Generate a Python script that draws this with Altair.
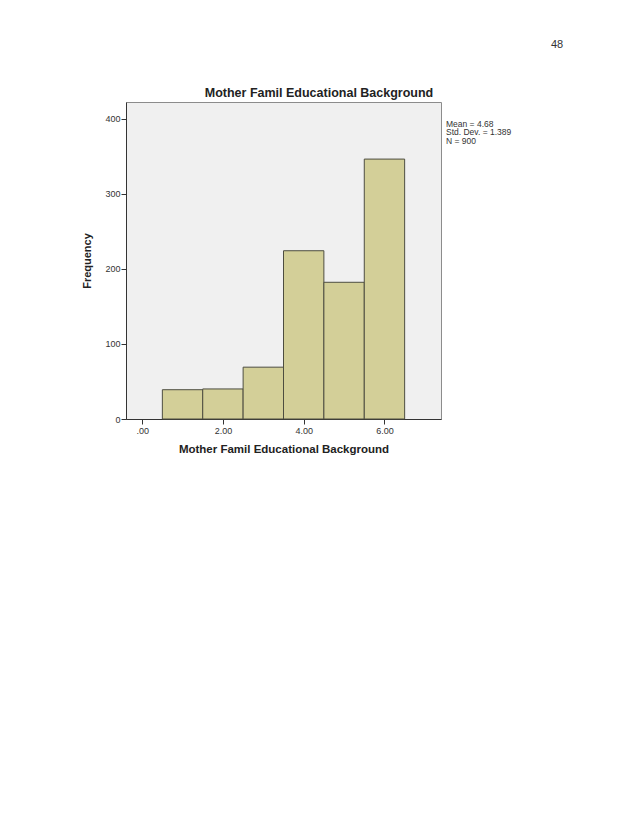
import altair as alt
import pandas as pd

# Histogram data
bin_start = [0.5, 1.5, 2.5, 3.5, 4.5, 5.5]
bin_end = [1.5, 2.5, 3.5, 4.5, 5.5, 6.5]
counts = [39, 40, 69, 224, 182, 346]

stats_lines = ["Mean = 4.68", "Std. Dev. = 1.389", "N = 900"]
title_text = "Mother Famil Educational Background"
page_number = "48"

df = pd.DataFrame({"start": bin_start, "end": bin_end, "count": counts})
stats_df = pd.DataFrame({"line": stats_lines, "idx": list(range(len(stats_lines)))})

FONT = "Liberation Sans"

bars = alt.Chart(df).mark_rect(
    fill="#D3CF98", stroke="#4d4d40", strokeWidth=1
).encode(
    x=alt.X("start:Q",
            scale=alt.Scale(domain=[-0.4, 7.4], nice=False, zero=False),
            axis=alt.Axis(values=[0, 2, 4, 6],
                          labelExpr="datum.value == 0 ? '.00' : format(datum.value, '.2f')",
                          title=title_text, grid=False)),
    x2="end:Q",
    y=alt.Y("count:Q",
            scale=alt.Scale(domain=[0, 422], nice=False),
            axis=alt.Axis(values=[0, 100, 200, 300, 400], title="Frequency", grid=False)),
    y2=alt.datum(0),
)

stats = alt.Chart(stats_df).mark_text(
    align="left", baseline="middle", font=FONT, fontSize=8.5, color="#333333"
).encode(
    x=alt.value(320),
    y=alt.Y("idx:Q", scale=alt.Scale(domain=[0, 2], range=[21.5, 38.7]), axis=None),
    text="line:N",
)

page = alt.Chart(pd.DataFrame({"t": [page_number]})).mark_text(
    align="center", baseline="middle", font=FONT, fontSize=11, color="#333333"
).encode(
    x=alt.value(431),
    y=alt.value(-57),
    text="t:N",
)

title = alt.Chart(pd.DataFrame({"t": [title_text]})).mark_text(
    align="center", baseline="alphabetic", font=FONT, fontSize=12.5,
    fontWeight="bold", color="#222222"
).encode(
    x=alt.value(193),
    y=alt.value(-5),
    text="t:N",
)

chart = alt.layer(bars, stats, page, title).resolve_scale(y="independent").properties(
    width=315,
    height=317,
    padding={"left": 118, "top": 94, "right": 180, "bottom": 380},
    autosize=alt.AutoSizeParams(type="none"),
).configure_view(
    fill="#F0F0F0", stroke="#8c8c8c", strokeWidth=1
).configure_axis(
    labelFont=FONT, labelFontSize=9, labelColor="#333333",
    titleFont=FONT, titleFontWeight="bold", titleColor="#222222",
    domainColor="#333333", tickColor="#333333", tickSize=5,
).configure_axisX(
    titleFontSize=11.5, labelPadding=2, titlePadding=8,
).configure_axisY(
    titleFontSize=11, labelPadding=1, titlePadding=12,
)

chart.save("out.html", embed_options={"renderer": "svg", "actions": False})
